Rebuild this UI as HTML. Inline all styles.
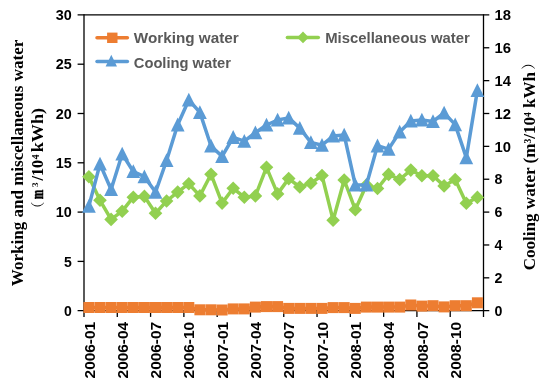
<!DOCTYPE html>
<html><head><meta charset="utf-8"><title>Water consumption</title>
<style>html,body{margin:0;padding:0;background:#fff}svg{display:block}</style></head>
<body>
<svg width="550" height="388" viewBox="0 0 550 388">
<rect width="550" height="388" fill="#fff"/>
<g stroke="#000" stroke-width="1.3" fill="none">
<path d="M84.0,14.25 V316.9"/>
<path d="M483.5,14.25 V316.9"/>
<path d="M77.6,14.9 H489.3"/>
<path d="M77.6,310.7 H489.3"/>
<path d="M77.6,261.40 H84.0"/>
<path d="M77.6,212.10 H84.0"/>
<path d="M77.6,162.80 H84.0"/>
<path d="M77.6,113.50 H84.0"/>
<path d="M77.6,64.20 H84.0"/>
<path d="M483.5,277.83 H489.3"/>
<path d="M483.5,244.97 H489.3"/>
<path d="M483.5,212.10 H489.3"/>
<path d="M483.5,179.23 H489.3"/>
<path d="M483.5,146.37 H489.3"/>
<path d="M483.5,113.50 H489.3"/>
<path d="M483.5,80.63 H489.3"/>
<path d="M483.5,47.77 H489.3"/>
<path d="M117.29,310.7 V316.9"/>
<path d="M150.58,310.7 V316.9"/>
<path d="M183.88,310.7 V316.9"/>
<path d="M217.17,310.7 V316.9"/>
<path d="M250.46,310.7 V316.9"/>
<path d="M283.75,310.7 V316.9"/>
<path d="M317.04,310.7 V316.9"/>
<path d="M350.33,310.7 V316.9"/>
<path d="M383.62,310.7 V316.9"/>
<path d="M416.92,310.7 V316.9"/>
<path d="M450.21,310.7 V316.9"/>
</g>
<polyline points="88.9,307.5 100.0,307.5 111.1,307.5 122.2,307.5 133.3,307.5 144.4,307.5 155.5,307.5 166.6,307.5 177.7,307.5 188.8,307.5 199.9,309.8 211.0,309.8 222.1,310.0 233.2,308.9 244.3,308.9 255.4,307.1 266.5,306.6 277.6,306.6 288.7,308.4 299.8,308.4 310.9,308.4 322.0,308.4 333.1,307.6 344.2,307.6 355.3,308.4 366.4,307.1 377.5,307.1 388.6,307.1 399.7,307.1 410.8,305.0 421.9,306.1 433.0,305.7 444.1,306.9 455.2,305.7 466.3,305.7 477.4,302.8" fill="none" stroke="#ED7D31" stroke-width="3.5" stroke-linejoin="round"/>
<rect x="83.4" y="302.0" width="11" height="11" fill="#ED7D31"/>
<rect x="94.5" y="302.0" width="11" height="11" fill="#ED7D31"/>
<rect x="105.6" y="302.0" width="11" height="11" fill="#ED7D31"/>
<rect x="116.7" y="302.0" width="11" height="11" fill="#ED7D31"/>
<rect x="127.8" y="302.0" width="11" height="11" fill="#ED7D31"/>
<rect x="138.9" y="302.0" width="11" height="11" fill="#ED7D31"/>
<rect x="150.0" y="302.0" width="11" height="11" fill="#ED7D31"/>
<rect x="161.1" y="302.0" width="11" height="11" fill="#ED7D31"/>
<rect x="172.2" y="302.0" width="11" height="11" fill="#ED7D31"/>
<rect x="183.3" y="302.0" width="11" height="11" fill="#ED7D31"/>
<rect x="194.4" y="304.3" width="11" height="11" fill="#ED7D31"/>
<rect x="205.5" y="304.3" width="11" height="11" fill="#ED7D31"/>
<rect x="216.6" y="304.5" width="11" height="11" fill="#ED7D31"/>
<rect x="227.7" y="303.4" width="11" height="11" fill="#ED7D31"/>
<rect x="238.8" y="303.4" width="11" height="11" fill="#ED7D31"/>
<rect x="249.9" y="301.6" width="11" height="11" fill="#ED7D31"/>
<rect x="261.0" y="301.1" width="11" height="11" fill="#ED7D31"/>
<rect x="272.1" y="301.1" width="11" height="11" fill="#ED7D31"/>
<rect x="283.2" y="302.9" width="11" height="11" fill="#ED7D31"/>
<rect x="294.3" y="302.9" width="11" height="11" fill="#ED7D31"/>
<rect x="305.4" y="302.9" width="11" height="11" fill="#ED7D31"/>
<rect x="316.5" y="302.9" width="11" height="11" fill="#ED7D31"/>
<rect x="327.6" y="302.1" width="11" height="11" fill="#ED7D31"/>
<rect x="338.7" y="302.1" width="11" height="11" fill="#ED7D31"/>
<rect x="349.8" y="302.9" width="11" height="11" fill="#ED7D31"/>
<rect x="360.9" y="301.6" width="11" height="11" fill="#ED7D31"/>
<rect x="372.0" y="301.6" width="11" height="11" fill="#ED7D31"/>
<rect x="383.1" y="301.6" width="11" height="11" fill="#ED7D31"/>
<rect x="394.2" y="301.6" width="11" height="11" fill="#ED7D31"/>
<rect x="405.3" y="299.5" width="11" height="11" fill="#ED7D31"/>
<rect x="416.4" y="300.6" width="11" height="11" fill="#ED7D31"/>
<rect x="427.5" y="300.2" width="11" height="11" fill="#ED7D31"/>
<rect x="438.6" y="301.4" width="11" height="11" fill="#ED7D31"/>
<rect x="449.7" y="300.2" width="11" height="11" fill="#ED7D31"/>
<rect x="460.8" y="300.2" width="11" height="11" fill="#ED7D31"/>
<rect x="471.9" y="297.3" width="11" height="11" fill="#ED7D31"/>
<polyline points="88.9,176.8 100.0,200.3 111.1,219.4 122.2,211.2 133.3,197.2 144.4,196.4 155.5,213.3 166.6,201.0 177.7,192.1 188.8,183.7 199.9,195.9 211.0,174.2 222.1,203.1 233.2,188.3 244.3,197.2 255.4,195.9 266.5,167.3 277.6,193.9 288.7,178.6 299.8,187.0 310.9,183.2 322.0,175.5 333.1,220.2 344.2,180.0 355.3,209.7 366.4,185.0 377.5,188.5 388.6,174.4 399.7,179.5 410.8,170.1 421.9,175.7 433.0,175.7 444.1,185.9 455.2,179.5 466.3,203.3 477.4,197.4" fill="none" stroke="#92D050" stroke-width="3.5" stroke-linejoin="round"/>
<polygon points="88.9,170.0 95.7,176.8 88.9,183.6 82.1,176.8" fill="#92D050"/>
<polygon points="100.0,193.5 106.8,200.3 100.0,207.1 93.2,200.3" fill="#92D050"/>
<polygon points="111.1,212.6 117.9,219.4 111.1,226.2 104.3,219.4" fill="#92D050"/>
<polygon points="122.2,204.4 129.0,211.2 122.2,218.0 115.4,211.2" fill="#92D050"/>
<polygon points="133.3,190.4 140.1,197.2 133.3,204.0 126.5,197.2" fill="#92D050"/>
<polygon points="144.4,189.6 151.2,196.4 144.4,203.2 137.6,196.4" fill="#92D050"/>
<polygon points="155.5,206.5 162.3,213.3 155.5,220.1 148.7,213.3" fill="#92D050"/>
<polygon points="166.6,194.2 173.4,201.0 166.6,207.8 159.8,201.0" fill="#92D050"/>
<polygon points="177.7,185.3 184.5,192.1 177.7,198.9 170.9,192.1" fill="#92D050"/>
<polygon points="188.8,176.9 195.6,183.7 188.8,190.5 182.0,183.7" fill="#92D050"/>
<polygon points="199.9,189.1 206.7,195.9 199.9,202.7 193.1,195.9" fill="#92D050"/>
<polygon points="211.0,167.4 217.8,174.2 211.0,181.0 204.2,174.2" fill="#92D050"/>
<polygon points="222.1,196.3 228.9,203.1 222.1,209.9 215.3,203.1" fill="#92D050"/>
<polygon points="233.2,181.5 240.0,188.3 233.2,195.1 226.4,188.3" fill="#92D050"/>
<polygon points="244.3,190.4 251.1,197.2 244.3,204.0 237.5,197.2" fill="#92D050"/>
<polygon points="255.4,189.1 262.2,195.9 255.4,202.7 248.6,195.9" fill="#92D050"/>
<polygon points="266.5,160.5 273.3,167.3 266.5,174.1 259.7,167.3" fill="#92D050"/>
<polygon points="277.6,187.1 284.4,193.9 277.6,200.7 270.8,193.9" fill="#92D050"/>
<polygon points="288.7,171.8 295.5,178.6 288.7,185.4 281.9,178.6" fill="#92D050"/>
<polygon points="299.8,180.2 306.6,187.0 299.8,193.8 293.0,187.0" fill="#92D050"/>
<polygon points="310.9,176.4 317.7,183.2 310.9,190.0 304.1,183.2" fill="#92D050"/>
<polygon points="322.0,168.7 328.8,175.5 322.0,182.3 315.2,175.5" fill="#92D050"/>
<polygon points="333.1,213.4 339.9,220.2 333.1,227.0 326.3,220.2" fill="#92D050"/>
<polygon points="344.2,173.2 351.0,180.0 344.2,186.8 337.4,180.0" fill="#92D050"/>
<polygon points="355.3,202.9 362.1,209.7 355.3,216.5 348.5,209.7" fill="#92D050"/>
<polygon points="366.4,178.2 373.2,185.0 366.4,191.8 359.6,185.0" fill="#92D050"/>
<polygon points="377.5,181.7 384.3,188.5 377.5,195.3 370.7,188.5" fill="#92D050"/>
<polygon points="388.6,167.6 395.4,174.4 388.6,181.2 381.8,174.4" fill="#92D050"/>
<polygon points="399.7,172.7 406.5,179.5 399.7,186.3 392.9,179.5" fill="#92D050"/>
<polygon points="410.8,163.3 417.6,170.1 410.8,176.9 404.0,170.1" fill="#92D050"/>
<polygon points="421.9,168.9 428.7,175.7 421.9,182.5 415.1,175.7" fill="#92D050"/>
<polygon points="433.0,168.9 439.8,175.7 433.0,182.5 426.2,175.7" fill="#92D050"/>
<polygon points="444.1,179.1 450.9,185.9 444.1,192.7 437.3,185.9" fill="#92D050"/>
<polygon points="455.2,172.7 462.0,179.5 455.2,186.3 448.4,179.5" fill="#92D050"/>
<polygon points="466.3,196.5 473.1,203.3 466.3,210.1 459.5,203.3" fill="#92D050"/>
<polygon points="477.4,190.6 484.2,197.4 477.4,204.2 470.6,197.4" fill="#92D050"/>
<polyline points="88.9,206.1 100.0,164.0 111.1,189.5 122.2,154.0 133.3,171.5 144.4,176.7 155.5,192.1 166.6,160.5 177.7,124.8 188.8,100.0 199.9,112.4 211.0,146.0 222.1,156.4 233.2,137.3 244.3,141.1 255.4,132.7 266.5,125.0 277.6,120.0 288.7,117.9 299.8,128.1 310.9,142.4 322.0,145.2 333.1,136.0 344.2,135.0 355.3,185.0 366.4,185.0 377.5,145.8 388.6,149.1 399.7,132.0 410.8,121.0 421.9,120.0 433.0,121.5 444.1,112.9 455.2,124.6 466.3,157.6 477.4,90.4" fill="none" stroke="#5B9BD5" stroke-width="3.5" stroke-linejoin="round"/>
<polygon points="88.9,198.9 95.8,212.7 82.0,212.7" fill="#5B9BD5"/>
<polygon points="100.0,156.8 106.9,170.6 93.1,170.6" fill="#5B9BD5"/>
<polygon points="111.1,182.3 118.0,196.1 104.2,196.1" fill="#5B9BD5"/>
<polygon points="122.2,146.8 129.1,160.6 115.3,160.6" fill="#5B9BD5"/>
<polygon points="133.3,164.3 140.2,178.1 126.4,178.1" fill="#5B9BD5"/>
<polygon points="144.4,169.5 151.3,183.3 137.5,183.3" fill="#5B9BD5"/>
<polygon points="155.5,184.9 162.4,198.7 148.6,198.7" fill="#5B9BD5"/>
<polygon points="166.6,153.3 173.5,167.1 159.7,167.1" fill="#5B9BD5"/>
<polygon points="177.7,117.6 184.6,131.4 170.8,131.4" fill="#5B9BD5"/>
<polygon points="188.8,92.8 195.7,106.6 181.9,106.6" fill="#5B9BD5"/>
<polygon points="199.9,105.2 206.8,119.0 193.0,119.0" fill="#5B9BD5"/>
<polygon points="211.0,138.8 217.9,152.6 204.1,152.6" fill="#5B9BD5"/>
<polygon points="222.1,149.2 229.0,163.0 215.2,163.0" fill="#5B9BD5"/>
<polygon points="233.2,130.1 240.1,143.9 226.3,143.9" fill="#5B9BD5"/>
<polygon points="244.3,133.9 251.2,147.7 237.4,147.7" fill="#5B9BD5"/>
<polygon points="255.4,125.5 262.3,139.3 248.5,139.3" fill="#5B9BD5"/>
<polygon points="266.5,117.8 273.4,131.6 259.6,131.6" fill="#5B9BD5"/>
<polygon points="277.6,112.8 284.5,126.6 270.7,126.6" fill="#5B9BD5"/>
<polygon points="288.7,110.7 295.6,124.5 281.8,124.5" fill="#5B9BD5"/>
<polygon points="299.8,120.9 306.7,134.7 292.9,134.7" fill="#5B9BD5"/>
<polygon points="310.9,135.2 317.8,149.0 304.0,149.0" fill="#5B9BD5"/>
<polygon points="322.0,138.0 328.9,151.8 315.1,151.8" fill="#5B9BD5"/>
<polygon points="333.1,128.8 340.0,142.6 326.2,142.6" fill="#5B9BD5"/>
<polygon points="344.2,127.8 351.1,141.6 337.3,141.6" fill="#5B9BD5"/>
<polygon points="355.3,177.8 362.2,191.6 348.4,191.6" fill="#5B9BD5"/>
<polygon points="366.4,177.8 373.3,191.6 359.5,191.6" fill="#5B9BD5"/>
<polygon points="377.5,138.6 384.4,152.4 370.6,152.4" fill="#5B9BD5"/>
<polygon points="388.6,141.9 395.5,155.7 381.7,155.7" fill="#5B9BD5"/>
<polygon points="399.7,124.8 406.6,138.6 392.8,138.6" fill="#5B9BD5"/>
<polygon points="410.8,113.8 417.7,127.6 403.9,127.6" fill="#5B9BD5"/>
<polygon points="421.9,112.8 428.8,126.6 415.0,126.6" fill="#5B9BD5"/>
<polygon points="433.0,114.3 439.9,128.1 426.1,128.1" fill="#5B9BD5"/>
<polygon points="444.1,105.7 451.0,119.5 437.2,119.5" fill="#5B9BD5"/>
<polygon points="455.2,117.4 462.1,131.2 448.3,131.2" fill="#5B9BD5"/>
<polygon points="466.3,150.4 473.2,164.2 459.4,164.2" fill="#5B9BD5"/>
<polygon points="477.4,83.2 484.3,97.0 470.5,97.0" fill="#5B9BD5"/>
<text x="71.7" y="315.8" text-anchor="end" font-size="14.3" font-family="Liberation Sans, Arial, sans-serif" font-weight="bold" textLength="7.8" lengthAdjust="spacingAndGlyphs">0</text>
<text x="71.7" y="266.5" text-anchor="end" font-size="14.3" font-family="Liberation Sans, Arial, sans-serif" font-weight="bold" textLength="7.8" lengthAdjust="spacingAndGlyphs">5</text>
<text x="71.7" y="217.2" text-anchor="end" font-size="14.3" font-family="Liberation Sans, Arial, sans-serif" font-weight="bold" textLength="16" lengthAdjust="spacingAndGlyphs">10</text>
<text x="71.7" y="167.9" text-anchor="end" font-size="14.3" font-family="Liberation Sans, Arial, sans-serif" font-weight="bold" textLength="16" lengthAdjust="spacingAndGlyphs">15</text>
<text x="71.7" y="118.6" text-anchor="end" font-size="14.3" font-family="Liberation Sans, Arial, sans-serif" font-weight="bold" textLength="16" lengthAdjust="spacingAndGlyphs">20</text>
<text x="71.7" y="69.3" text-anchor="end" font-size="14.3" font-family="Liberation Sans, Arial, sans-serif" font-weight="bold" textLength="16" lengthAdjust="spacingAndGlyphs">25</text>
<text x="71.7" y="20.0" text-anchor="end" font-size="14.3" font-family="Liberation Sans, Arial, sans-serif" font-weight="bold" textLength="16" lengthAdjust="spacingAndGlyphs">30</text>
<text x="494.6" y="315.8" font-size="14.3" font-family="Liberation Sans, Arial, sans-serif" font-weight="bold" textLength="7.9" lengthAdjust="spacingAndGlyphs">0</text>
<text x="494.6" y="282.9" font-size="14.3" font-family="Liberation Sans, Arial, sans-serif" font-weight="bold" textLength="7.9" lengthAdjust="spacingAndGlyphs">2</text>
<text x="494.6" y="250.1" font-size="14.3" font-family="Liberation Sans, Arial, sans-serif" font-weight="bold" textLength="7.9" lengthAdjust="spacingAndGlyphs">4</text>
<text x="494.6" y="217.2" font-size="14.3" font-family="Liberation Sans, Arial, sans-serif" font-weight="bold" textLength="7.9" lengthAdjust="spacingAndGlyphs">6</text>
<text x="494.6" y="184.3" font-size="14.3" font-family="Liberation Sans, Arial, sans-serif" font-weight="bold" textLength="7.9" lengthAdjust="spacingAndGlyphs">8</text>
<text x="494.6" y="151.5" font-size="14.3" font-family="Liberation Sans, Arial, sans-serif" font-weight="bold" textLength="16.5" lengthAdjust="spacingAndGlyphs">10</text>
<text x="494.6" y="118.6" font-size="14.3" font-family="Liberation Sans, Arial, sans-serif" font-weight="bold" textLength="16.5" lengthAdjust="spacingAndGlyphs">12</text>
<text x="494.6" y="85.7" font-size="14.3" font-family="Liberation Sans, Arial, sans-serif" font-weight="bold" textLength="16.5" lengthAdjust="spacingAndGlyphs">14</text>
<text x="494.6" y="52.9" font-size="14.3" font-family="Liberation Sans, Arial, sans-serif" font-weight="bold" textLength="16.5" lengthAdjust="spacingAndGlyphs">16</text>
<text x="494.6" y="20.0" font-size="14.3" font-family="Liberation Sans, Arial, sans-serif" font-weight="bold" textLength="16.5" lengthAdjust="spacingAndGlyphs">18</text>
<text transform="translate(94.5,378.4) rotate(-90)" font-size="14.4" font-family="Liberation Sans, Arial, sans-serif" font-weight="bold" textLength="56.5" lengthAdjust="spacingAndGlyphs">2006-01</text>
<text transform="translate(127.8,378.4) rotate(-90)" font-size="14.4" font-family="Liberation Sans, Arial, sans-serif" font-weight="bold" textLength="56.5" lengthAdjust="spacingAndGlyphs">2006-04</text>
<text transform="translate(161.1,378.4) rotate(-90)" font-size="14.4" font-family="Liberation Sans, Arial, sans-serif" font-weight="bold" textLength="56.5" lengthAdjust="spacingAndGlyphs">2006-07</text>
<text transform="translate(194.4,378.4) rotate(-90)" font-size="14.4" font-family="Liberation Sans, Arial, sans-serif" font-weight="bold" textLength="56.5" lengthAdjust="spacingAndGlyphs">2006-10</text>
<text transform="translate(227.7,378.4) rotate(-90)" font-size="14.4" font-family="Liberation Sans, Arial, sans-serif" font-weight="bold" textLength="56.5" lengthAdjust="spacingAndGlyphs">2007-01</text>
<text transform="translate(261.0,378.4) rotate(-90)" font-size="14.4" font-family="Liberation Sans, Arial, sans-serif" font-weight="bold" textLength="56.5" lengthAdjust="spacingAndGlyphs">2007-04</text>
<text transform="translate(294.3,378.4) rotate(-90)" font-size="14.4" font-family="Liberation Sans, Arial, sans-serif" font-weight="bold" textLength="56.5" lengthAdjust="spacingAndGlyphs">2007-07</text>
<text transform="translate(327.6,378.4) rotate(-90)" font-size="14.4" font-family="Liberation Sans, Arial, sans-serif" font-weight="bold" textLength="56.5" lengthAdjust="spacingAndGlyphs">2007-10</text>
<text transform="translate(360.9,378.4) rotate(-90)" font-size="14.4" font-family="Liberation Sans, Arial, sans-serif" font-weight="bold" textLength="56.5" lengthAdjust="spacingAndGlyphs">2008-01</text>
<text transform="translate(394.2,378.4) rotate(-90)" font-size="14.4" font-family="Liberation Sans, Arial, sans-serif" font-weight="bold" textLength="56.5" lengthAdjust="spacingAndGlyphs">2008-04</text>
<text transform="translate(427.5,378.4) rotate(-90)" font-size="14.4" font-family="Liberation Sans, Arial, sans-serif" font-weight="bold" textLength="56.5" lengthAdjust="spacingAndGlyphs">2008-07</text>
<text transform="translate(460.8,378.4) rotate(-90)" font-size="14.4" font-family="Liberation Sans, Arial, sans-serif" font-weight="bold" textLength="56.5" lengthAdjust="spacingAndGlyphs">2008-10</text>
<path d="M97,37.8 H127.4" stroke="#ED7D31" stroke-width="3.5" stroke-linecap="round"/>
<rect x="107.1" y="32.6" width="10.4" height="10.4" fill="#ED7D31"/>
<text x="133.8" y="43" font-family="Liberation Sans, Arial, sans-serif" font-weight="bold" fill="#595959" font-size="15" textLength="104.9" lengthAdjust="spacingAndGlyphs">Working water</text>
<path d="M287.4,37.4 H318.3" stroke="#92D050" stroke-width="3.5" stroke-linecap="round"/>
<polygon points="303.0,31.6 308.8,37.4 303.0,43.2 297.2,37.4" fill="#92D050"/>
<text x="325.2" y="43" font-family="Liberation Sans, Arial, sans-serif" font-weight="bold" fill="#595959" font-size="15" textLength="144.6" lengthAdjust="spacingAndGlyphs">Miscellaneous water</text>
<path d="M97,61.4 H127.4" stroke="#5B9BD5" stroke-width="3.5" stroke-linecap="round"/>
<polygon points="111.3,54.7 117.0,66.5 105.6,66.5" fill="#5B9BD5"/>
<text x="133.8" y="67.6" font-family="Liberation Sans, Arial, sans-serif" font-weight="bold" fill="#595959" font-size="15" textLength="97.2" lengthAdjust="spacingAndGlyphs">Cooling water</text>
<text transform="translate(23.4,286.2) rotate(-90)" font-size="17" font-family="Liberation Serif, Noto Serif CJK SC, serif" font-weight="bold" fill="#000" textLength="246.5" lengthAdjust="spacingAndGlyphs">Working and miscellaneous water</text>
<g transform="translate(43.2,199.3) rotate(-90)" font-size="17" font-family="Liberation Serif, Noto Serif CJK SC, serif" font-weight="bold" fill="#000"><text x="-16.1" y="-1.0" font-size="14" font-weight="normal" font-family="Noto Serif CJK SC, Liberation Serif, serif">（</text><text x="0" y="0" textLength="9.6" lengthAdjust="spacingAndGlyphs" stroke="#000" stroke-width="0.5">m</text><text x="12.2" y="-5.6" font-size="9">3</text><text x="18.8" y="0" textLength="20.6" lengthAdjust="spacingAndGlyphs">/10</text><text x="40" y="-4.4" font-size="9.5">4</text><text x="47" y="0" textLength="44.4" lengthAdjust="spacingAndGlyphs">kWh)</text></g>
<text transform="translate(535.1,270.3) rotate(-90)" font-size="17" font-family="Liberation Serif, Noto Serif CJK SC, serif" font-weight="bold" fill="#000" textLength="198.4" lengthAdjust="spacingAndGlyphs">Cooling water (m<tspan font-size="9.5" dy="-4.2">3</tspan><tspan dy="4.2">/10</tspan><tspan font-size="9.5" dy="-4.2">4</tspan><tspan dy="4.2"> kWh</tspan></text>
<text transform="translate(534.4,69.7) rotate(-90)" font-size="14.5" font-family="Noto Serif CJK SC, Liberation Serif, serif" fill="#000">）</text>
</svg>
</body></html>
